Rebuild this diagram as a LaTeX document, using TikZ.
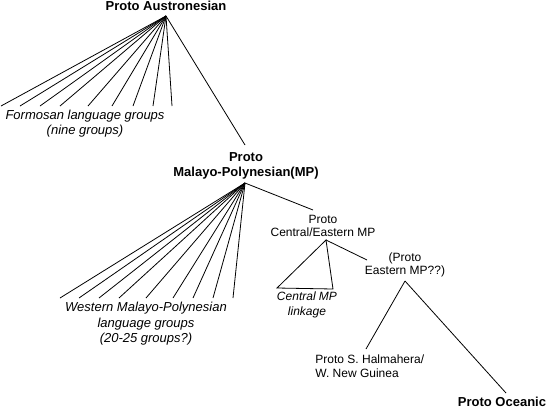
\documentclass[tikz,border=0pt]{standalone}
\usepackage{fontspec}
\setmainfont{Liberation Sans}
\begin{document}
\begin{tikzpicture}[x=1pt, y=-1pt, line width=0.8pt,
    proto/.style={font=\fontsize{13}{15.5}\selectfont\bfseries, align=center, inner sep=0pt},
    plain/.style={font=\fontsize{12}{13.5}\selectfont, align=center, inner sep=0pt},
    group/.style={font=\fontsize{13}{15.5}\selectfont\itshape, align=center, inner sep=0pt}]
        \useasboundingbox (0,0) rectangle (548,410);

        %the top of the tree
        \node [proto] (pan) at (166,6) {Proto Austronesian};
        \coordinate (pantop) at (166,16);

        %formosan fan
        \foreach \x [count=\i] in {1,20,40,60,88,112,133,153,172}
            \coordinate (f\i) at (\x,106);
        \foreach \i in {1,...,9}
            \draw (pantop) -- (f\i);
        \node [group] (formosan) at (85,123.5) {Formosan language groups\\(nine groups)};

        %malayo-polynesian
        \node [proto] (pmp) at (246,166) {Proto\\Malayo-Polynesian(MP)};
        \coordinate (pmpin) at (245,145);
        \coordinate (pmptop) at (245,183);
        \draw (pantop) -- (pmpin);

        %western fan
        \foreach \x [count=\i] in {60,79,99,119,146,173,193,213,233}
            \coordinate (w\i) at (\x,298);
        \foreach \i in {1,...,9}
            \draw (pmptop) -- (w\i);
        \node [group] (wmp) at (146,324) {Western Malayo-Polynesian\\language groups\\(20-25 groups?)};

        %central/eastern
        \node [plain] (cemp) at (323,226) {Proto\\Central/Eastern MP};
        \coordinate (cempin) at (313,210);
        \coordinate (cemptop) at (326,240);
        \draw (pmptop) -- (cempin);

        %central linkage
        \coordinate (cl) at (277,288);
        \coordinate (cr) at (333,289);
        \draw (cemptop) -- (cl) -- (cr) -- cycle;
        \node [group, font=\fontsize{12}{15}\selectfont\itshape] (cmp) at (307,305) {Central MP\\linkage};

        %eastern
        \node [plain] (emp) at (405,265) {(Proto\\Eastern MP??)};
        \coordinate (empin) at (367,260);
        \coordinate (emptop) at (405,281);
        \draw (cemptop) -- (empin);

        \node [plain, align=left, anchor=west] (shwng) at (315,366) {Proto S. Halmahera/\\W. New Guinea};
        \coordinate (shwngin) at (366,349);
        \draw (emptop) -- (shwngin);

        \node [proto] (poc) at (502,402) {Proto Oceanic};
        \coordinate (pocin) at (506,393);
        \draw (emptop) -- (pocin);

    \end{tikzpicture}
\end{document}
